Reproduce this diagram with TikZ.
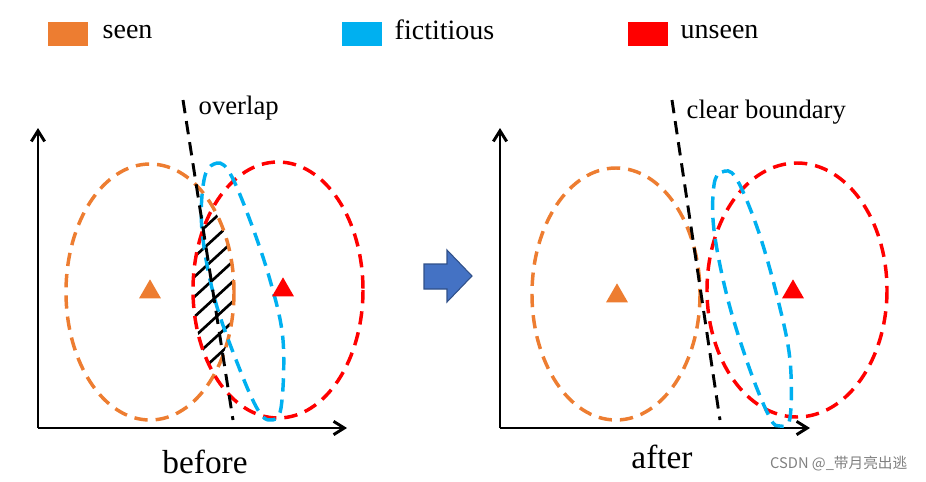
\documentclass[tikz,border=0pt]{standalone}
\usepackage{fontspec}
\setmainfont{Liberation Serif}
\newfontfamily\cjk{Noto Sans CJK SC}
\usetikzlibrary{arrows.meta,shapes.geometric}
\definecolor{sorange}{RGB}{237,125,49}
\definecolor{sblue}{RGB}{0,176,240}
\definecolor{sred}{RGB}{255,0,0}
\definecolor{arrowblue}{RGB}{68,114,196}
\tikzset{
 dsh/.style={line width=2.6pt,dash pattern=on 10pt off 6pt},
 axis/.style={line width=2.2pt,-{Straight Barb[length=8pt,width=10pt]}},
 tri/.style={regular polygon,regular polygon sides=3,inner sep=0pt,minimum size=19pt},
 lbl/.style={font=\fontsize{21}{23}\selectfont,anchor=west},
 big/.style={font=\fontsize{25}{27}\selectfont},
}
\begin{document}
\begin{tikzpicture}[x=0.75pt,y=-0.75pt]
\useasboundingbox (0,0) rectangle (926,482);
% legend
\node[fill=sorange,minimum width=30pt,minimum height=18pt] (lo) at (68,34) {};
\node[lbl] (tlo) at (98,32) {seen};
\node[fill=sblue,minimum width=30pt,minimum height=18pt] (lb) at (362,34) {};
\node[lbl] (tlb) at (390,30) {fictitious};
\node[fill=sred,minimum width=30pt,minimum height=18pt] (lr) at (648,34) {};
\node[lbl] (tlr) at (676,32) {unseen};
% left panel
\coordinate (o1) at (38,428);
\coordinate (y1) at (38,128);
\coordinate (x1) at (347,428);
\draw[axis] (o1) -- (y1);
\draw[axis] (o1) -- (x1);
\begin{scope}
\clip (150,292) ellipse [x radius=84,y radius=128];
\clip (278,290) ellipse [x radius=85,y radius=128];
\foreach \i in {0,...,7} \draw[line width=2pt] (180,250+\i*20) -- (240,195+\i*20);
\end{scope}
\draw[dsh,sorange] (150,292) ellipse [x radius=84,y radius=128];
\draw[dsh,sred] (278,290) ellipse [x radius=85,y radius=128];
\draw[dsh,sblue] plot[smooth cycle,tension=0.6] coordinates {(204,180) (214,164) (228,170) (248,215) (270,280) (283,340) (281,408) (270,420) (258,410) (240,370) (215,300) (202,230)};
\coordinate (d1a) at (183,100);
\coordinate (d1b) at (233,420);
\draw[dsh,black,line width=2.2pt] (d1a) -- (d1b);
\node[tri,fill=sorange] (t1) at (150,292) {};
\node[tri,fill=sred] (t2) at (283,290) {};
\node[lbl,font=\fontsize{20}{22}\selectfont] (ov) at (194,108) {overlap};
\node[big] (bef) at (205,462) {before};
% arrow
\filldraw[fill=arrowblue,draw=arrowblue!70!black,line width=0.8pt] (424,264) -- (447,264) -- (447,250) -- (472,276) -- (447,302) -- (447,289) -- (424,289) -- cycle;
% right panel
\coordinate (o2) at (500,428);
\coordinate (y2) at (500,128);
\coordinate (x2) at (810,428);
\draw[axis] (o2) -- (y2);
\draw[axis] (o2) -- (x2);
\draw[dsh,sorange] (616,294) ellipse [x radius=84,y radius=126];
\draw[dsh,sred] (797,290) ellipse [x radius=90,y radius=127];
\draw[dsh,sblue] plot[smooth cycle,tension=0.6] coordinates {(714,185) (722,172) (736,178) (758,230) (778,300) (790,360) (790,418) (780,426) (770,418) (750,370) (728,300) (714,230)};
\coordinate (d2a) at (672,100);
\coordinate (d2b) at (720,420);
\draw[dsh,black,line width=2.2pt] (d2a) -- (d2b);
\node[tri,fill=sorange] (t3) at (617,296) {};
\node[tri,fill=sred] (t4) at (793,292) {};
\node[lbl,font=\fontsize{20}{22}\selectfont] (cb) at (682,112) {clear boundary};
\node[big] (aft) at (662,457) {after};
\node[anchor=east,text=gray,font=\cjk\fontsize{11}{13}\selectfont] (wm) at (912,464) {CSDN @\_带月亮出逃};
\end{tikzpicture}
\end{document}
